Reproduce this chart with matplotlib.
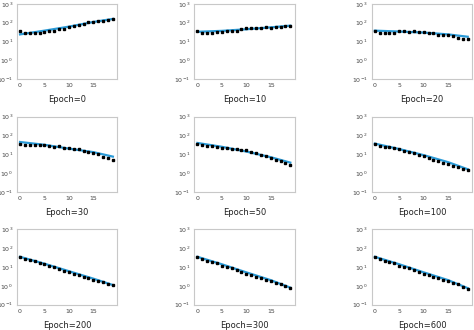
#compare model curve and observed points at several epochs
import numpy as np
import matplotlib.pyplot as plt

epochs = [0, 10, 20, 30, 50, 100, 200, 300, 600]
x = np.arange(20)

obs_0 = [36, 28, 28, 30, 28, 32, 36, 38, 45, 48, 58, 65, 75, 90, 105, 115, 120, 125, 135, 150]
obs_10 = [35, 28, 27, 30, 32, 33, 35, 37, 38, 45, 55, 50, 52, 53, 58, 55, 58, 62, 68, 68]
obs_20 = [35, 30, 30, 30, 30, 35, 35, 32, 35, 32, 33, 28, 28, 22, 22, 22, 20, 16, 14, 14]
obs_30 = [35, 30, 30, 30, 32, 30, 28, 25, 28, 22, 22, 20, 18, 15, 14, 12, 10, 7, 6, 5]
obs_50 = [35, 30, 28, 26, 24, 22, 22, 20, 20, 17, 16, 13, 11, 9, 8, 6, 5, 4.2, 3.5, 2.8]
obs_100 = [35, 28, 25, 23, 21, 18, 15, 13, 11, 9, 8, 6.5, 5.2, 4.3, 3.5, 2.9, 2.4, 2.0, 1.7, 1.5]
obs_200 = [35, 27, 23, 20, 17, 14, 11, 9.5, 8, 6.5, 5.5, 4.5, 3.7, 3.1, 2.6, 2.1, 1.8, 1.5, 1.2, 1.1]
obs_300 = [35, 27, 22, 19, 16, 12, 10, 8.5, 7, 5.5, 4.5, 3.6, 3.0, 2.5, 2.0, 1.7, 1.4, 1.2, 1.0, 0.8]
obs_600 = [35, 27, 22, 19, 16, 12, 10, 8.5, 7, 5.5, 4.5, 3.6, 3.0, 2.5, 2.0, 1.7, 1.4, 1.2, 0.9, 0.7]

#model curve read at a few x positions
knots = [0, 5, 10, 15, 19]
fit_0 = [24, 38, 62, 110, 160]
fit_10 = [33, 37, 45, 57, 70]
fit_20 = [38, 34, 30, 24, 18]
fit_30 = [45, 32, 20, 13, 7.5]
fit_50 = [40, 25, 14, 7, 3.6]
fit_100 = [37, 19, 9, 3.8, 1.6]
fit_200 = [35, 15, 6, 2.4, 1.1]
fit_300 = [35, 14, 5.2, 2.0, 0.8]
fit_600 = [35, 14, 5.2, 2.0, 0.75]

obs = [obs_0, obs_10, obs_20, obs_30, obs_50, obs_100, obs_200, obs_300, obs_600]
fits = [fit_0, fit_10, fit_20, fit_30, fit_50, fit_100, fit_200, fit_300, fit_600]

fig, axes = plt.subplots(3, 3, figsize=(4.74, 3.30), dpi=100)
plt.subplots_adjust(left=0.036, right=0.996, top=0.988, bottom=0.077, wspace=0.77, hspace=0.5)

for k, ax in enumerate(axes.flat):
    ax.plot(knots, fits[k], color='#2b9bd8', lw=1.6, zorder=2)
    ax.plot(x, obs[k], 's', color='black', ms=1.5, zorder=3)
    ax.set_yscale('log')
    ax.set_ylim(0.1, 1000)
    ax.set_xlim(-0.6, 19.9)
    ax.set_xticks([0, 5, 10, 15])
    ax.minorticks_off()
    ax.set_yticks([0.1, 1, 10, 100, 1000])
    ax.tick_params(length=0, labelsize=4.5, labelcolor='#444444', pad=3)
    for s in ax.spines.values():
        s.set_color('#c8c8c8')
        s.set_linewidth(0.8)
    ax.set_xlabel('Epoch=%d' % epochs[k], fontsize=6, color='#222222', labelpad=5)

plt.savefig('out.png', dpi=100)
